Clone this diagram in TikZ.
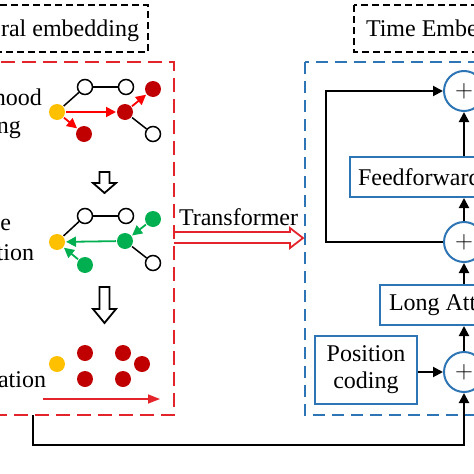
\documentclass[tikz,border=0pt]{standalone}
\usepackage{fontspec}
\setmainfont{Liberation Serif}
\usetikzlibrary{arrows.meta}
\usetikzlibrary{positioning}
\definecolor{embred}{HTML}{E3242B}
\definecolor{nodered}{HTML}{C00000}
\definecolor{nodegold}{HTML}{FFC000}
\definecolor{nodegreen}{HTML}{00B050}
\definecolor{boxblue}{HTML}{2E75B6}

\begin{document}
\begin{tikzpicture}[
				x=1pt, y=-1pt,
				line width=2pt,
				txt/.style={font=\fontsize{24}{27}\selectfont, inner sep=0pt},
				block/.style={draw=boxblue, line width=2pt, font=\fontsize{24}{27}\selectfont, inner ysep=0pt, minimum height=40pt},
				plus/.style={circle, draw=boxblue, line width=2pt, minimum size=40pt, inner sep=0pt, font=\fontsize{24}{27}\selectfont},
				arrow/.style={line width=2pt, -{Triangle[length=10pt,width=10pt]}},
				vtx/.style={circle, draw, line width=1.5pt, fill=white, minimum size=15pt, inner sep=0pt},
				dot/.style={circle, fill=#1, minimum size=16pt, inner sep=0pt},
				edge/.style={line width=1.5pt},
				pass/.style={line width=1.8pt, draw=#1, -{Triangle[length=10pt,width=10pt]}},
				hollow/.style={line width=1.8pt, line join=miter},
			]
				\useasboundingbox (0,0) rectangle (474,474);
				\clip (0,0) rectangle (474,474);

				% title frames
				\draw[dash pattern=on 7pt off 4pt] (-200,5) rectangle (148,52);
				\node[txt, anchor=base east] (ttl) at (140,36) {ral embedding};
				\draw[dash pattern=on 7pt off 4pt] (354,5) rectangle (600,52);
				\node[txt, anchor=base west] (ttr) at (365,36) {Time Embe};

				% group frames
				\draw[embred, dash pattern=on 14pt off 7pt] (-200,62) rectangle (174,415);
				\draw[boxblue, dash pattern=on 12pt off 7pt] (305,62) rectangle (600,415);

				% left labels
				\node[txt, anchor=base east] (l1a) at (43,105) {hood};
				\node[txt, anchor=base east] (l1b) at (22,133) {ng};
				\node[txt, anchor=base east] (l2a) at (12,230) {e};
				\node[txt, anchor=base east] (l2b) at (35,260) {tion};
				\node[txt, anchor=base east] (l3) at (47,387) {ation};

				% sampling graph
				\node[dot=nodegold] (sy) at (57,112) {};
				\node[vtx] (sw1) at (85,87) {};
				\node[vtx] (sw2) at (126,87) {};
				\node[vtx] (sw3) at (153,134) {};
				\node[dot=nodered] (sr1) at (125,112) {};
				\node[dot=nodered] (sr2) at (153,89) {};
				\node[dot=nodered] (sr3) at (84,134) {};
				\draw[edge] (sy) -- (sw1);
				\draw[edge] (sw1) -- (sw2);
				\draw[edge] (sr1) -- (sw3);
				\draw[pass=red] (sy) -- (sr1);
				\draw[pass=red] (sr1) -- (sr2);
				\draw[pass=red] (sy) -- (sr3);

				\draw[hollow] (99.5,172) -- (99.5,183) -- (93,183) -- (104.5,193) -- (116,183) -- (109.5,183) -- (109.5,172) -- cycle;

				% aggregation graph
				\node[dot=nodegold] (ay) at (57,242) {};
				\node[vtx] (aw1) at (85,216) {};
				\node[vtx] (aw2) at (126,216) {};
				\node[vtx] (aw3) at (153,263) {};
				\node[dot=nodegreen] (ag1) at (125,241) {};
				\node[dot=nodegreen] (ag2) at (153,219) {};
				\node[dot=nodegreen] (ag3) at (85,265) {};
				\draw[edge] (ay) -- (aw1);
				\draw[edge] (aw1) -- (aw2);
				\draw[edge] (ag1) -- (aw3);
				\draw[pass=nodegreen] (ag1) -- (ay);
				\draw[pass=nodegreen] (ag2) -- (ag1);
				\draw[pass=nodegreen] (ag3) -- (ay);

				\draw[hollow] (99.5,287) -- (99.5,309) -- (93,309) -- (104.5,323) -- (116,309) -- (109.5,309) -- (109.5,287) -- cycle;

				% sequence row
				\node[dot=nodegold] (qy) at (57,364) {};
				\node[dot=nodered] (q1) at (85,353) {};
				\node[dot=nodered] (q2) at (85,379) {};
				\node[dot=nodered] (q3) at (123,353) {};
				\node[dot=nodered] (q4) at (123,379) {};
				\node[dot=nodered] (q5) at (142,364) {};
				\coordinate (tl) at (43,399);
				\coordinate (tr) at (160,399);
				\draw[line width=1.5pt, embred, -{Triangle[length=12pt,width=9pt]}] (tl) -- (tr);

				% transformer link
				\node[txt, anchor=base west] (tf) at (178,225) {Transformer};
				\draw[hollow, embred] (174,232) -- (290,232) -- (290,228) -- (303,238) -- (290,248) -- (290,243) -- (174,243);

				% encoder stack
				\node[plus] (c1) at (464,91) {$+$};
				\node[plus] (c2) at (464,242) {$+$};
				\node[plus] (c3) at (464,372) {$+$};
				\node[block, anchor=west, inner xsep=8pt] (ff) at (349,177) {Feedforward};
				\node[block, anchor=west, inner xsep=9pt] (la) at (379,305) {Long Att};
				\node[block, minimum width=102pt, minimum height=68pt, align=center, font=\fontsize{24}{27}\selectfont] (pos) at (366,370) {Position\\coding};

				\draw[arrow] (pos.east |- c3) -- (c3.west);
				\draw[arrow] (c3) -- (c3 |- la.south);
				\draw[arrow] (la.north -| c2) -- (c2.south);
				\draw[arrow] (c2) -- (c2 |- ff.south);
				\draw[arrow] (ff.north -| c1) -- (c1.south);
				\coordinate (skip) at (326,242);
				\draw[arrow] (c2.west) -- (skip) |- (c1.west);

				\coordinate (tap) at (33,415);
				\coordinate (low) at (33,445);
				\draw[arrow] (tap) -- (low) -| (c3.south);
			\end{tikzpicture}
\end{document}
